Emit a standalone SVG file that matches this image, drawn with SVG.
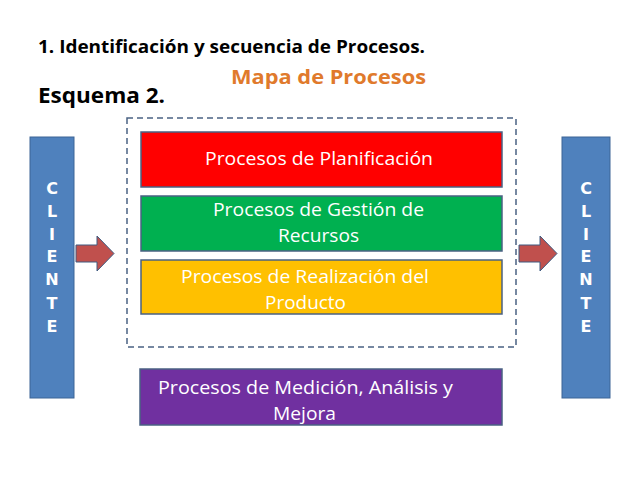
<svg xmlns="http://www.w3.org/2000/svg" width="638" height="493" viewBox="0 0 638 493">
<style>
.t{font-family:"Open Sans","Noto Sans","Liberation Sans",sans-serif;font-weight:bold;fill:#000}
.bx{stroke:#4a6183;stroke-width:1.5}
.w{font-family:"Open Sans","Noto Sans","Liberation Sans",sans-serif;font-size:19px;fill:#fff}
.cl{font-family:"DejaVu Sans","Liberation Sans",sans-serif;font-weight:bold;font-size:16px;fill:#fff;text-anchor:middle}
.bar{fill:#4f81bd;stroke:#3d6596;stroke-width:1}
.arr{fill:#c0504d;stroke:#3f5b80;stroke-width:1}
</style>
<rect width="638" height="493" fill="#fff"/>
<text class="t" x="38" y="53" font-size="18" textLength="387" lengthAdjust="spacingAndGlyphs">1. Identificación y secuencia de Procesos.</text>
<text class="t" x="38" y="103" font-size="22" textLength="127" lengthAdjust="spacingAndGlyphs">Esquema 2.</text>
<text class="t" x="231" y="84" font-size="20" style="fill:#e07a2c" textLength="195" lengthAdjust="spacingAndGlyphs">Mapa de Procesos</text>

<g id="connectors">
<rect x="127" y="118" width="389" height="229" fill="none" stroke="#4a6183" stroke-width="1.5" stroke-dasharray="6,4"/>
<path class="arr" d="M76,245 H97 V236 L114,253.5 L97,271 V262 H76 Z"/>
<path class="arr" d="M519,245 H540 V236 L557,253.5 L540,271 V262 H519 Z"/>
</g>

<g id="cliente-left">
<rect class="bar" x="30" y="137" width="44" height="261"/>
<text class="cl" x="52" y="194">C</text>
<text class="cl" x="52" y="217">L</text>
<text class="cl" x="52" y="240">I</text>
<text class="cl" x="52" y="262">E</text>
<text class="cl" x="52" y="285">N</text>
<text class="cl" x="52" y="309">T</text>
<text class="cl" x="52" y="332">E</text>
</g>
<g id="cliente-right">
<rect class="bar" x="562" y="137" width="48" height="261"/>
<text class="cl" x="586" y="194">C</text>
<text class="cl" x="586" y="217">L</text>
<text class="cl" x="586" y="240">I</text>
<text class="cl" x="586" y="262">E</text>
<text class="cl" x="586" y="285">N</text>
<text class="cl" x="586" y="309">T</text>
<text class="cl" x="586" y="332">E</text>
</g>

<g id="planificacion">
<rect class="bx" x="141" y="132" width="361" height="55" fill="#ff0000"/>
<text class="w" x="205" y="165" textLength="228" lengthAdjust="spacingAndGlyphs">Procesos de Planificación</text>
</g>
<g id="gestion">
<rect class="bx" x="141" y="196" width="361" height="55" fill="#00b050"/>
<text class="w" x="213" y="216" textLength="211" lengthAdjust="spacingAndGlyphs">Procesos de Gestión de</text>
<text class="w" x="278" y="242" textLength="81" lengthAdjust="spacingAndGlyphs">Recursos</text>
</g>
<g id="realizacion">
<rect class="bx" x="141" y="260" width="361" height="54" fill="#ffc000"/>
<text class="w" x="181" y="283" textLength="248" lengthAdjust="spacingAndGlyphs">Procesos de Realización del</text>
<text class="w" x="265" y="309" textLength="81" lengthAdjust="spacingAndGlyphs">Producto</text>
</g>
<g id="medicion">
<rect class="bx" x="140" y="369" width="362" height="56" fill="#7030a0"/>
<text class="w" x="158" y="394" textLength="295" lengthAdjust="spacingAndGlyphs">Procesos de Medición, Análisis y</text>
<text class="w" x="273" y="420" textLength="63" lengthAdjust="spacingAndGlyphs">Mejora</text>
</g>
</svg>
